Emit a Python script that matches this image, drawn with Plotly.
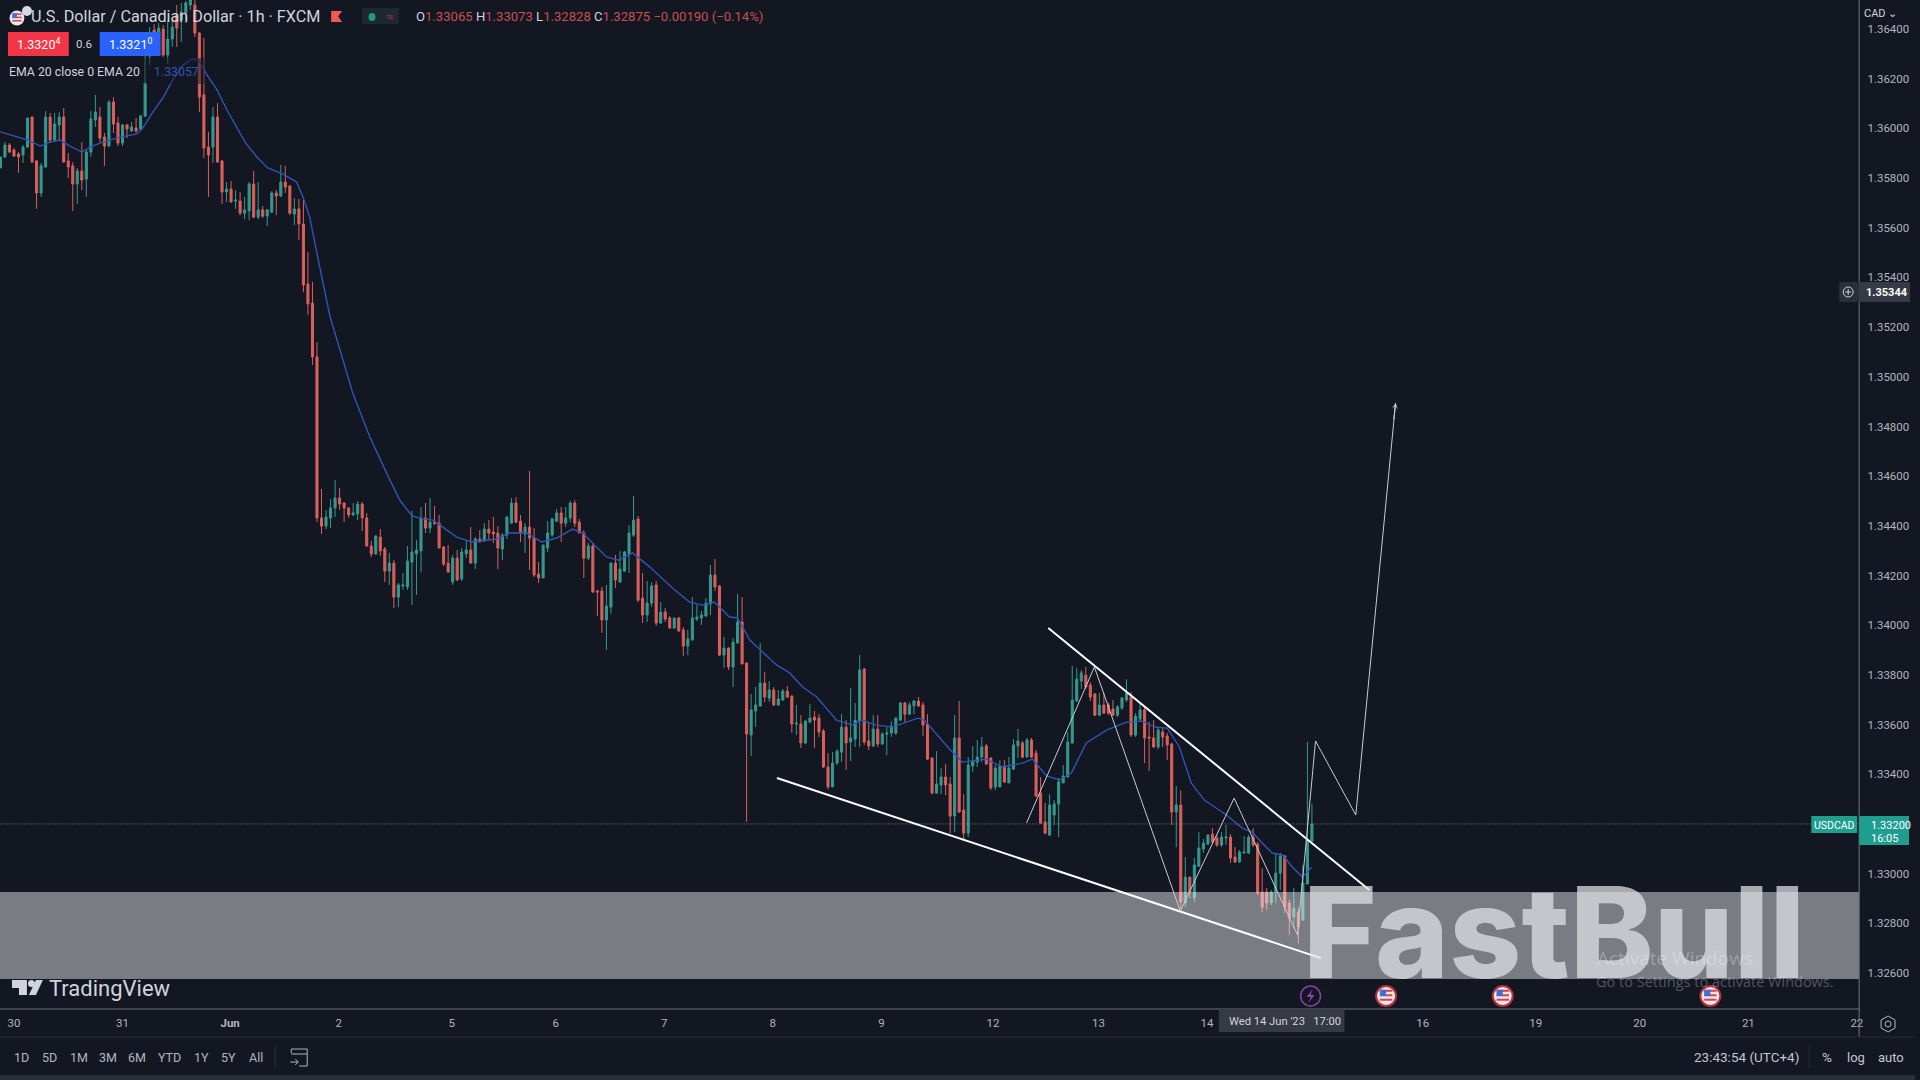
import plotly.graph_objects as go

open_prices = [
    1.35841,1.35885,1.35933,1.35913,1.35897,1.35893,1.35925,1.36046,1.35869,1.35740,
    1.35845,1.36046,1.35953,1.36014,1.36046,1.35869,1.35849,1.35776,1.35829,1.35796,
    1.35905,1.36034,1.36046,1.35965,1.35929,1.36106,1.36022,1.35941,1.36014,1.35990,
    1.36002,1.35998,1.36050,1.36292,1.36396,1.36376,1.36400,1.36296,1.36360,1.36457,
    1.36436,1.36465,1.36497,1.36497,1.36384,1.36135,1.35925,1.35925,1.36046,1.35869,
    1.35744,1.35756,1.35708,1.35708,1.35659,1.35668,1.35776,1.35643,1.35672,1.35647,
    1.35663,1.35740,1.35728,1.35784,1.35768,1.35655,1.35676,1.35615,1.35374,1.35297,
    1.35080,1.34432,1.34399,1.34432,1.34472,1.34512,1.34492,1.34472,1.34444,1.34448,
    1.34488,1.34432,1.34319,1.34287,1.34355,1.34307,1.34218,1.34250,1.34113,1.34158,
    1.34154,1.34254,1.34287,1.34299,1.34432,1.34391,1.34415,1.34411,1.34315,1.34250,
    1.34174,1.34270,1.34186,1.34287,1.34303,1.34250,1.34347,1.34339,1.34387,1.34375,
    1.34371,1.34307,1.34363,1.34411,1.34492,1.34419,1.34367,1.34395,1.34351,1.34206,
    1.34190,1.34311,1.34363,1.34419,1.34452,1.34411,1.34432,1.34492,1.34415,1.34371,
    1.34270,1.34319,1.34138,1.34138,1.34021,1.34073,1.34250,1.34174,1.34218,1.34287,
    1.34363,1.34428,1.34109,1.34041,1.34089,1.34162,1.34009,1.34053,1.34029,1.33989,
    1.34029,1.33981,1.33916,1.33941,1.34025,1.34029,1.34037,1.34085,1.34202,1.34158,
    1.33880,1.33908,1.33832,1.33928,1.34013,1.33848,1.33558,1.33655,1.33675,1.33767,
    1.33707,1.33739,1.33679,1.33699,1.33735,1.33715,1.33602,1.33602,1.33526,1.33610,
    1.33630,1.33626,1.33574,1.33429,1.33349,1.33445,1.33489,1.33590,1.33530,1.33542,
    1.33614,1.33824,1.33534,1.33514,1.33582,1.33522,1.33562,1.33566,1.33566,1.33618,
    1.33687,1.33642,1.33675,1.33695,1.33679,1.33602,1.33465,1.33324,1.33357,1.33389,
    1.33361,1.33232,1.33546,1.33256,1.33163,1.33433,1.33449,1.33469,1.33514,1.33465,
    1.33349,1.33349,1.33433,1.33365,1.33421,1.33514,1.33526,1.33469,1.33538,1.33485,
    1.33324,1.33208,1.33155,1.33236,1.33280,1.33365,1.33389,1.33526,1.33695,1.33775,
    1.33799,1.33759,1.33723,1.33638,1.33679,1.33679,1.33663,1.33638,1.33667,1.33699,
    1.33711,1.33558,1.33622,1.33659,1.33550,1.33546,1.33510,1.33570,1.33554,1.33522,
    1.33248,1.33276,1.32882,1.32986,1.32902,1.33030,1.33099,1.33119,1.33159,1.33143,
    1.33115,1.33143,1.33147,1.33067,1.33047,1.33083,1.33083,1.33147,1.33119,1.32926,
    1.32926,1.32882,1.32926,1.33002,1.33071,1.32882,1.32825,1.32845,1.32813,1.32958,
    1.33131,
]
high_prices = [
    1.35885,1.35945,1.35941,1.35921,1.35905,1.35933,1.36042,1.36046,1.35873,1.35861,
    1.36070,1.36062,1.36062,1.36066,1.36082,1.35901,1.35865,1.35841,1.35945,1.35913,
    1.36070,1.36135,1.36086,1.35982,1.36114,1.36126,1.36046,1.36018,1.36018,1.36026,
    1.36042,1.36054,1.36296,1.36408,1.36420,1.36424,1.36416,1.36436,1.36445,1.36497,
    1.36505,1.36513,1.36557,1.36537,1.36388,1.36364,1.35986,1.36086,1.36102,1.35873,
    1.35784,1.35788,1.35752,1.35744,1.35724,1.35784,1.35829,1.35784,1.35688,1.35676,
    1.35748,1.35752,1.35853,1.35849,1.35772,1.35720,1.35716,1.35712,1.35502,1.35382,
    1.35140,1.34548,1.34464,1.34508,1.34585,1.34552,1.34496,1.34476,1.34492,1.34500,
    1.34496,1.34452,1.34339,1.34363,1.34387,1.34315,1.34291,1.34262,1.34170,1.34210,
    1.34319,1.34460,1.34343,1.34476,1.34492,1.34512,1.34480,1.34444,1.34319,1.34323,
    1.34283,1.34303,1.34311,1.34339,1.34395,1.34355,1.34383,1.34411,1.34423,1.34436,
    1.34399,1.34371,1.34436,1.34512,1.34516,1.34444,1.34411,1.34621,1.34391,1.34254,
    1.34323,1.34419,1.34432,1.34468,1.34476,1.34476,1.34500,1.34504,1.34428,1.34383,
    1.34331,1.34327,1.34142,1.34154,1.34162,1.34254,1.34283,1.34299,1.34299,1.34403,
    1.34520,1.34440,1.34210,1.34178,1.34174,1.34178,1.34093,1.34069,1.34037,1.34029,
    1.34033,1.33993,1.33981,1.34113,1.34081,1.34057,1.34109,1.34242,1.34266,1.34162,
    1.33953,1.33912,1.33948,1.34126,1.34113,1.33848,1.33723,1.33751,1.33928,1.33812,
    1.33775,1.33751,1.33739,1.33743,1.33755,1.33719,1.33679,1.33638,1.33618,1.33683,
    1.33655,1.33642,1.33582,1.33485,1.33489,1.33501,1.33642,1.33618,1.33747,1.33687,
    1.33880,1.33828,1.33606,1.33638,1.33638,1.33570,1.33590,1.33614,1.33630,1.33691,
    1.33691,1.33691,1.33699,1.33711,1.33691,1.33642,1.33469,1.33493,1.33425,1.33441,
    1.33389,1.33638,1.33695,1.33320,1.33469,1.33514,1.33538,1.33550,1.33522,1.33469,
    1.33437,1.33457,1.33457,1.33469,1.33542,1.33582,1.33534,1.33546,1.33546,1.33498,
    1.33389,1.33284,1.33320,1.33296,1.33385,1.33437,1.33570,1.33836,1.33828,1.33820,
    1.33832,1.33771,1.33727,1.33727,1.33727,1.33687,1.33699,1.33679,1.33711,1.33783,
    1.33731,1.33646,1.33687,1.33671,1.33610,1.33618,1.33590,1.33590,1.33566,1.33526,
    1.33353,1.33336,1.33067,1.32970,1.33063,1.33167,1.33139,1.33159,1.33183,1.33155,
    1.33167,1.33196,1.33159,1.33107,1.33095,1.33151,1.33155,1.33183,1.33127,1.33022,
    1.32942,1.32934,1.33079,1.33083,1.33075,1.32894,1.32942,1.32865,1.33035,1.33530,
    1.33280,
]
low_prices = [
    1.35841,1.35881,1.35901,1.35885,1.35821,1.35861,1.35921,1.35861,1.35676,1.35724,
    1.35841,1.35941,1.35945,1.35953,1.35861,1.35800,1.35668,1.35696,1.35752,1.35724,
    1.35885,1.36006,1.35945,1.35849,1.35925,1.35982,1.35929,1.35929,1.35961,1.35986,
    1.35982,1.35990,1.36046,1.36255,1.36336,1.36344,1.36288,1.36259,1.36328,1.36328,
    1.36348,1.36424,1.36477,1.36368,1.36066,1.35881,1.35724,1.35861,1.35861,1.35696,
    1.35704,1.35700,1.35676,1.35651,1.35635,1.35631,1.35639,1.35635,1.35639,1.35607,
    1.35659,1.35651,1.35724,1.35740,1.35651,1.35611,1.35551,1.35341,1.35250,1.35048,
    1.34415,1.34367,1.34387,1.34391,1.34436,1.34464,1.34415,1.34432,1.34440,1.34423,
    1.34379,1.34315,1.34275,1.34283,1.34279,1.34174,1.34162,1.34069,1.34073,1.34142,
    1.34142,1.34081,1.34122,1.34213,1.34371,1.34371,1.34403,1.34311,1.34238,1.34210,
    1.34162,1.34178,1.34178,1.34270,1.34250,1.34226,1.34335,1.34335,1.34343,1.34331,
    1.34226,1.34262,1.34347,1.34411,1.34411,1.34335,1.34291,1.34222,1.34194,1.34170,
    1.34190,1.34295,1.34355,1.34415,1.34335,1.34395,1.34415,1.34395,1.34371,1.34190,
    1.34262,1.34130,1.34037,1.33969,1.33900,1.34047,1.34150,1.34170,1.34214,1.34210,
    1.34355,1.34093,1.34009,1.34013,1.34073,1.33997,1.34005,1.34013,1.33985,1.33985,
    1.33973,1.33876,1.33880,1.33937,1.34017,1.34001,1.34033,1.34041,1.34138,1.33876,
    1.33828,1.33820,1.33751,1.33928,1.33844,1.33208,1.33473,1.33590,1.33671,1.33691,
    1.33691,1.33675,1.33675,1.33695,1.33707,1.33566,1.33558,1.33506,1.33522,1.33606,
    1.33506,1.33550,1.33425,1.33340,1.33349,1.33437,1.33449,1.33417,1.33453,1.33510,
    1.33510,1.33518,1.33498,1.33510,1.33510,1.33518,1.33477,1.33550,1.33558,1.33614,
    1.33610,1.33638,1.33642,1.33671,1.33554,1.33457,1.33320,1.33324,1.33320,1.33316,
    1.33163,1.33167,1.33244,1.33131,1.33147,1.33409,1.33429,1.33449,1.33437,1.33336,
    1.33336,1.33349,1.33365,1.33365,1.33417,1.33465,1.33465,1.33469,1.33465,1.33308,
    1.33200,1.33159,1.33151,1.33196,1.33147,1.33365,1.33389,1.33522,1.33691,1.33743,
    1.33743,1.33695,1.33634,1.33634,1.33646,1.33638,1.33634,1.33630,1.33659,1.33691,
    1.33550,1.33550,1.33614,1.33445,1.33413,1.33506,1.33501,1.33510,1.33457,1.33196,
    1.33107,1.32853,1.32865,1.32902,1.32886,1.33026,1.33083,1.33115,1.33123,1.33107,
    1.33107,1.33115,1.33043,1.33043,1.33043,1.33083,1.33079,1.33107,1.32914,1.32845,
    1.32853,1.32873,1.32882,1.32934,1.32841,1.32753,1.32781,1.32720,1.32809,1.32958,
    1.33127,
]
close_prices = [
    1.35885,1.35933,1.35905,1.35889,1.35885,1.35925,1.36042,1.35865,1.35740,1.35849,
    1.36046,1.35953,1.36018,1.36046,1.35865,1.35845,1.35776,1.35829,1.35792,1.35905,
    1.36038,1.36066,1.35961,1.35929,1.36106,1.36018,1.35941,1.36014,1.35998,1.36006,
    1.35990,1.36050,1.36183,1.36376,1.36364,1.36404,1.36296,1.36360,1.36408,1.36404,
    1.36469,1.36505,1.36517,1.36384,1.36126,1.35921,1.35893,1.36046,1.35865,1.35744,
    1.35756,1.35704,1.35712,1.35659,1.35672,1.35776,1.35643,1.35672,1.35647,1.35672,
    1.35740,1.35728,1.35784,1.35764,1.35659,1.35676,1.35615,1.35370,1.35293,1.35080,
    1.34432,1.34399,1.34436,1.34472,1.34512,1.34488,1.34472,1.34444,1.34452,1.34488,
    1.34432,1.34319,1.34287,1.34359,1.34299,1.34218,1.34250,1.34113,1.34162,1.34162,
    1.34258,1.34295,1.34303,1.34432,1.34391,1.34415,1.34411,1.34311,1.34246,1.34214,
    1.34270,1.34182,1.34295,1.34303,1.34250,1.34347,1.34335,1.34387,1.34371,1.34367,
    1.34311,1.34363,1.34436,1.34492,1.34415,1.34371,1.34395,1.34351,1.34202,1.34190,
    1.34323,1.34371,1.34428,1.34452,1.34411,1.34432,1.34492,1.34411,1.34371,1.34270,
    1.34319,1.34134,1.34134,1.34021,1.34077,1.34250,1.34182,1.34226,1.34295,1.34371,
    1.34423,1.34101,1.34041,1.34089,1.34158,1.34009,1.34053,1.34025,1.33989,1.34029,
    1.33977,1.33916,1.33945,1.34029,1.34033,1.34041,1.34089,1.34202,1.34154,1.33880,
    1.33908,1.33832,1.33932,1.34013,1.33844,1.33562,1.33659,1.33679,1.33767,1.33711,
    1.33739,1.33679,1.33703,1.33735,1.33711,1.33602,1.33606,1.33526,1.33614,1.33626,
    1.33618,1.33570,1.33429,1.33349,1.33445,1.33493,1.33590,1.33526,1.33546,1.33618,
    1.33820,1.33530,1.33514,1.33582,1.33522,1.33562,1.33566,1.33594,1.33626,1.33687,
    1.33642,1.33679,1.33695,1.33675,1.33598,1.33461,1.33324,1.33361,1.33389,1.33357,
    1.33232,1.33546,1.33248,1.33163,1.33437,1.33453,1.33469,1.33510,1.33441,1.33345,
    1.33425,1.33433,1.33369,1.33425,1.33518,1.33534,1.33469,1.33538,1.33469,1.33312,
    1.33204,1.33163,1.33276,1.33280,1.33369,1.33393,1.33530,1.33699,1.33783,1.33808,
    1.33751,1.33711,1.33638,1.33679,1.33646,1.33646,1.33638,1.33671,1.33707,1.33727,
    1.33558,1.33634,1.33659,1.33546,1.33546,1.33510,1.33578,1.33550,1.33518,1.33248,
    1.33276,1.32886,1.32986,1.32926,1.33035,1.33103,1.33123,1.33155,1.33127,1.33115,
    1.33147,1.33147,1.33063,1.33047,1.33087,1.33087,1.33147,1.33115,1.32922,1.32865,
    1.32882,1.32926,1.33002,1.33071,1.32865,1.32821,1.32861,1.32785,1.32962,1.33135,
    1.33200,
]
bars = list(range(len(open_prices)))

# EMA 20 at its bends
ema_bars = [0,2.2,4.3,6.1,8.8,11,13.2,15.4,18,19.8,22,24.2,26.4,30.2,31.5,33.7,35.9,38.1,40.4,42.3,
            43.7,45.7,47.9,50.1,52.3,54.1,56.7,59.1,62.5,65.5,66.9,68.4,70.6,72.9,75.1,77.9,81.7,83.7,86.1,88.3,
            91,93.4,95.6,97.8,100.9,104.2,107.5,109.7,112.6,116.4,119.7,123,126.5,128.8,131.8,134,136.7,139.8,143.6,148.6,
            152.4,155.3,157.9,161.2,163,165.7,171.6,174.5,177.4,180.5,184.9,188.4,190.4,193.7,197.3,200.4,202.8,204.3,209.9,212.7,
            218,221.6,226,228.2,231.3,234.2,236.8,240.1,244.6,249,252.5,255.2,258,260.7,263.3,266.2,271.1,274.6,276.8,279,
            281.2,283.5,285.7,287.9,289.9]
ema_values = [1.35986,1.35973,1.35961,1.35953,1.35929,1.35945,1.35953,1.35929,1.35905,1.35925,1.35941,1.35953,1.35965,1.35978,1.36002,1.36066,1.36122,1.36195,1.36255,1.36279,
              1.36279,1.36215,1.36155,1.36074,1.36002,1.35945,1.35885,1.35841,1.35816,1.35784,1.35724,1.35643,1.35443,1.35241,1.35108,1.34935,1.34758,1.34677,1.34585,1.34504,
              1.34440,1.34428,1.34423,1.34395,1.34355,1.34335,1.34343,1.34347,1.34371,1.34371,1.34335,1.34351,1.34387,1.34371,1.34315,1.34275,1.34262,1.34291,1.34234,1.34150,
              1.34093,1.34081,1.34093,1.34033,1.34029,1.33940,1.33840,1.33808,1.33751,1.33711,1.33618,1.33598,1.33618,1.33598,1.33590,1.33610,1.33626,1.33618,1.33501,1.33449,
              1.33461,1.33429,1.33445,1.33461,1.33393,1.33377,1.33405,1.33526,1.33578,1.33610,1.33614,1.33590,1.33586,1.33510,1.33365,1.33296,1.33236,1.33183,1.33167,1.33123,
              1.33083,1.33075,1.33026,1.32986,1.33026]

# drawn trend lines and the projected path
upper_line_bars = [231.7, 302.7]
upper_line_prices = [1.33989, 1.32934]
lower_line_bars = [171.7, 292]
lower_line_prices = [1.33385, 1.32660]
path_bars = [226.9, 241.9, 260.9, 272.8, 286.8, 290.8, 299.7, 308.5]
path_prices = [1.33204, 1.33832, 1.32849, 1.33304, 1.32753, 1.33534, 1.33236, 1.34895]

price_ticks = [1.326,1.328,1.330,1.332,1.334,1.336,1.338,1.340,1.342,1.344,1.346,1.348,1.350,
               1.352,1.354,1.356,1.358,1.360,1.362,1.364]
time_tick_bars = [3,27,50.8,74.8,99.8,122.8,146.8,170.8,194.8,219.5,242.8,266.8,314.5,339.5,362.5,386.5,410.5]
time_tick_text = ["30","31","<b>Jun</b>","2","5","6","7","8","9","12","13","14","16","19","20","21","22"]
event_bars = [306.4, 332.2, 378.1]

BG = "#131722"
UP = "#36998e"
DOWN = "#d9605c"
TXT = "#b2b5be"
FONT = "Roboto"
BAR_PX = 1864 / 411.09


def xp(px):
    return px / 1920


def yp(py):
    return 1 - py / 1080


def box(x0, y0, x1, y1, fill, line=None, kind="rect", width=1):
    return dict(type=kind, xref="paper", yref="paper", x0=xp(x0), x1=xp(x1), y0=yp(y0), y1=yp(y1),
                fillcolor=fill, line=dict(color=line or "rgba(0,0,0,0)", width=width), layer="above")


def rule(x0, y0, x1, y1, color, width=1, dash="solid"):
    return dict(type="line", xref="paper", yref="paper", x0=xp(x0), x1=xp(x1), y0=yp(y0), y1=yp(y1),
                line=dict(color=color, width=width, dash=dash), layer="above")


def pen(pts, fill="rgba(0,0,0,0)", line=None, width=1, close=True):
    d = "M" + " L".join(f"{xp(a):.5f},{yp(b):.5f}" for a, b in pts) + (" Z" if close else "")
    return dict(type="path", xref="paper", yref="paper", path=d, fillcolor=fill, layer="above",
                line=dict(color=line or "rgba(0,0,0,0)", width=width))


def label(text, x, y, size=12, color=TXT, anchor="left", font=FONT):
    return dict(text=text, x=xp(x), y=yp(y), xref="paper", yref="paper", xanchor=anchor, yanchor="middle",
                showarrow=False, font=dict(size=size, color=color, family=font))


def us_flag(cx, cy, r, ring, ring_width=1):
    parts = [box(cx - r, cy - r, cx + r, cy + r, "#e6e6ea", ring, "circle", ring_width)]
    s = r * 0.62
    for k in range(3):
        top = cy - s + k * s * 0.72
        parts.append(box(cx - s, top, cx + s, top + s * 0.32, "#d8434a"))
    parts.append(box(cx - s, cy - s, cx, cy, "#3f6fd0"))
    return parts


fig = go.Figure()
fig.add_trace(go.Candlestick(
    x=bars, open=open_prices, high=high_prices, low=low_prices, close=close_prices,
    increasing=dict(line=dict(color=UP, width=1), fillcolor=UP),
    decreasing=dict(line=dict(color=DOWN, width=1), fillcolor=DOWN),
    whiskerwidth=0, showlegend=False,
))
fig.add_trace(go.Scatter(x=ema_bars, y=ema_values, mode="lines",
                         line=dict(color="#2f55b5", width=1.4), showlegend=False))

shapes = []
# grey band sits over the candles, the drawings sit over the band
shapes.append(box(0, 892, 1864, 979, "rgba(255,255,255,0.44)"))
shapes.append(dict(type="line", xref="x", yref="y", x0=bars[0], x1=411, y0=close_prices[-1], y1=close_prices[-1],
                   line=dict(color="#7f8f94", width=1, dash="1px,2px"), layer="above"))
shapes.append(dict(type="line", xref="x", yref="y", x0=upper_line_bars[0], x1=upper_line_bars[1],
                   y0=upper_line_prices[0], y1=upper_line_prices[1], line=dict(color="#ffffff", width=2), layer="above"))
shapes.append(dict(type="line", xref="x", yref="y", x0=lower_line_bars[0], x1=lower_line_bars[1],
                   y0=lower_line_prices[0], y1=lower_line_prices[1], line=dict(color="#ffffff", width=2), layer="above"))
for i in range(len(path_bars) - 1):
    shapes.append(dict(type="line", xref="x", yref="y", x0=path_bars[i], x1=path_bars[i + 1],
                       y0=path_prices[i], y1=path_prices[i + 1], line=dict(color="#c9cbd0", width=1), layer="above"))

# panes and rules
shapes.append(rule(1864, 0, 1864, 1037, "#70737c"))
shapes.append(rule(0, 1009, 1864, 1009, "#70737c"))
shapes.append(rule(0, 1037, 1920, 1037, "#2a2e39"))
shapes.append(box(0, 1075, 1920, 1080, "#2a2e39"))
shapes.append(rule(276, 1045, 276, 1068, "#2a2e39"))
shapes.append(rule(1814, 1045, 1814, 1068, "#2a2e39"))

# legend widgets
shapes.append(box(145, 58, 205, 84, "rgba(19,23,34,0.5)"))
shapes += us_flag(17, 18, 7.5, "rgba(0,0,0,0)")
shapes.append(box(22, 6, 32, 16, "#d9d9de", None, "circle"))
shapes.append(pen([(332, 11), (343, 11), (339, 16.5), (343, 22), (332, 22)], fill="#ee5a5a"))
shapes.append(box(363, 8, 400, 24, "#1c2a30"))
shapes.append(box(369.5, 13, 376.5, 21, "#1f9a8a", None, "circle"))
shapes.append(box(8, 32, 69, 56, "#f23645"))
shapes.append(box(100, 32, 161, 56, "#2962ff"))

# crosshair and price tags
shapes.append(box(1844, 282, 1864, 302, "#2a2e39"))
shapes.append(box(1864, 282, 1915, 302, "#363a45"))
shapes.append(box(1848, 287, 1858, 297, "rgba(0,0,0,0)", "#d1d4dc", "circle"))
shapes.append(rule(1850, 292, 1856, 292, "#d1d4dc"))
shapes.append(rule(1853, 289, 1853, 295, "#d1d4dc"))
shapes.append(box(1816, 816, 1862, 833, "#1f9d8f"))
shapes.append(box(1864, 816, 1914, 845, "#1f9d8f"))
shapes.append(box(1222, 1009, 1348, 1032, "#363a45"))

# time axis events
shapes.append(box(1304, 986, 1324, 1006, "rgba(0,0,0,0)", "#8e3fa8", "circle", 1.5))
shapes.append(pen([(1316, 989), (1310, 997), (1314, 997), (1312, 1003), (1318, 995), (1314, 995)], fill="#8e3fa8"))
for b in event_bars:
    shapes += us_flag((b + 0.09) * BAR_PX, 996, 10, "#b8303a", 2)

# TradingView mark, calendar and gear
shapes.append(pen([(12, 980), (27, 980), (27, 995), (19, 995), (19, 988), (12, 988)], fill="#d1d4dc"))
shapes.append(box(28, 980, 35, 987, "#d1d4dc", None, "circle"))
shapes.append(pen([(36, 980), (43, 980), (36, 995), (29, 995)], fill="#d1d4dc"))
shapes.append(pen([(292, 1053), (292, 1049), (308, 1049), (308, 1066), (300, 1066)], line=TXT, close=False))
shapes.append(rule(292, 1054, 308, 1054, TXT))
shapes.append(rule(291, 1062, 299, 1062, TXT))
shapes.append(pen([(296, 1059), (299, 1062), (296, 1065)], line=TXT, close=False))
shapes.append(pen([(1893, 1016), (1900, 1020), (1900, 1028), (1893, 1032), (1886, 1028), (1886, 1020)], line=TXT))
shapes.append(box(1890, 1021, 1896, 1027, "rgba(0,0,0,0)", TXT, "circle"))

fast_bull = label("FastBull", 1558, 932, 126, "rgba(226,227,231,0.72)", "center", "Inter")
fast_bull["font"]["weight"] = 800

annotations = [
    label("U.S. Dollar / Canadian Dollar · 1h · FXCM", 29, 17, 16.2, "#d1d4dc"),
    label("≈", 391, 16, 13, "#b0245c", "center"),
    label('<span style="color:#d1d4dc">O</span>1.33065 <span style="color:#d1d4dc">H</span>1.33073 '
          '<span style="color:#d1d4dc">L</span>1.32828 <span style="color:#d1d4dc">C</span>1.32875 '
          '−0.00190 (−0.14%)', 415, 17, 13.1, "#c8504f"),
    label("1.3320<sup>4</sup>", 38.5, 44, 12.5, "#ffffff", "center"),
    label("0.6", 84, 44, 11.5, "#d1d4dc", "center"),
    label("1.3321<sup>0</sup>", 130.5, 44, 12.5, "#ffffff", "center"),
    label("EMA 20 close 0 EMA 20", 7, 72, 12.3, "#d1d4dc"),
    label("1.33057", 152, 72, 12.3, "#2f55b5"),
    label("CAD ⌄", 1885, 13, 11, "#d1d4dc", "center"),
    label("<b>1.35344</b>", 1892, 292, 11, "#ffffff", "center"),
    label("USDCAD", 1839, 825, 10.5, "#ffffff", "center"),
    label("1.33200", 1874, 825, 11, "#ffffff"),
    label("16:05", 1874, 838, 11, "#ffffff"),
    label("Wed 14 Jun '23   17:00", 1288, 1021, 11.2, "#d1d4dc", "center"),
    label("TradingView", 47, 988, 22, "#d1d4dc"),
    fast_bull,
    label("Activate Windows", 1599, 958, 19, "rgba(255,255,255,0.28)", font="Open Sans"),
    label("Go to Settings to activate Windows.", 1598, 981, 14.5, "rgba(255,255,255,0.28)", font="Open Sans"),
    label("23:43:54 (UTC+4)", 1751, 1057, 13.5, "#c3c6ce", "center"),
    label("%", 1832, 1057, 13.5, "#c3c6ce", "center"),
    label("log", 1861, 1057, 13, "#c3c6ce", "center"),
    label("auto", 1896, 1057, 13, "#c3c6ce", "center"),
]
for text, x in zip(["1D","5D","1M","3M","6M","YTD","1Y","5Y","All"], [22,50,79,108,137,170,202,229,257]):
    annotations.append(label(text, x, 1057, 12.5, TXT, "center"))

# open head on the end of the projected path
annotations.append(dict(x=path_bars[-1], y=path_prices[-1], xref="x", yref="y", text="", showarrow=True,
                        ax=-2, ay=18, arrowhead=3, arrowsize=1, arrowwidth=1, arrowcolor="#c9cbd0"))

fig.update_layout(
    width=1920, height=1080,
    margin=dict(l=0, r=0, t=0, b=0),
    paper_bgcolor=BG, plot_bgcolor=BG,
    boxgap=0.35,
    shapes=shapes, annotations=annotations,
    xaxis=dict(domain=[0, 1864 / 1920], range=[-0.09, 411], rangeslider=dict(visible=False),
               tickmode="array", tickvals=time_tick_bars, ticktext=time_tick_text,
               tickfont=dict(family=FONT, size=11.5, color=TXT), ticks="outside", ticklen=3,
               tickcolor="rgba(0,0,0,0)", showgrid=False, zeroline=False, showline=False),
    yaxis=dict(domain=[71 / 1080, 1], range=[1.32455, 1.36517], side="right", anchor="x",
               tickmode="array", tickvals=price_ticks, tickformat=".5f",
               tickfont=dict(family=FONT, size=11.5, color=TXT), ticks="outside", ticklen=5,
               tickcolor="rgba(0,0,0,0)", showgrid=False, zeroline=False, showline=False),
)
fig.write_html("out.html", post_script="document.body.style.margin='0';", config=dict(displayModeBar=False))
